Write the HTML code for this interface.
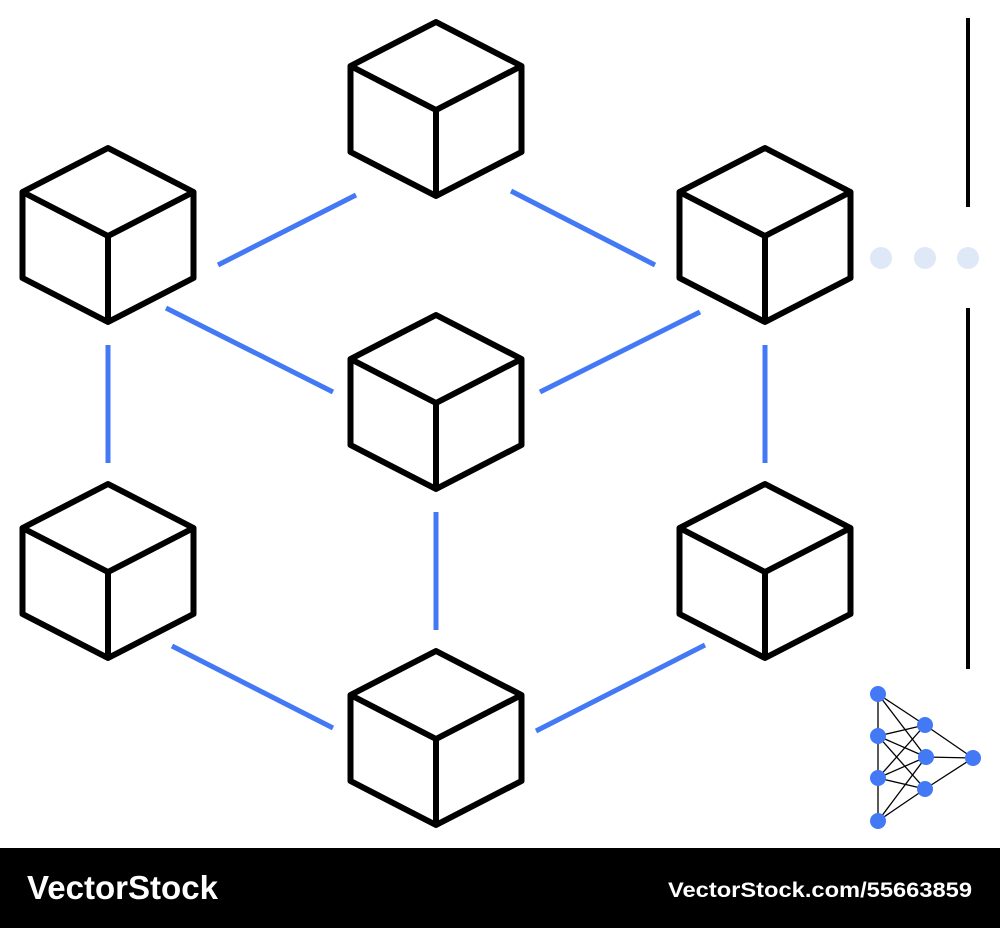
<!DOCTYPE html>
<html><head><style>body{margin:0;background:#fff}svg{display:block}</style></head><body>
<svg width="1000" height="928" viewBox="0 0 1000 928" xmlns="http://www.w3.org/2000/svg">
<defs>
<g id="c" fill="none" stroke="#000" stroke-width="6" stroke-linejoin="round">
<path d="M0 0 L85.5 44 L85.5 130 L0 174 L-85.5 130 L-85.5 44 Z"/>
<path d="M-85.5 44 L0 88 L85.5 44 M0 88 L0 174"/>
</g>
</defs>
<use href="#c" x="436" y="22"/>
<use href="#c" x="108" y="148"/>
<use href="#c" x="765" y="148"/>
<use href="#c" x="436" y="315"/>
<use href="#c" x="108" y="484"/>
<use href="#c" x="765" y="484"/>
<use href="#c" x="436" y="651"/>
<g stroke="#4479f5" stroke-width="5">
<line x1="218" y1="265" x2="356" y2="195"/>
<line x1="511" y1="191" x2="655" y2="265"/>
<line x1="166" y1="308" x2="333" y2="392"/>
<line x1="540" y1="392" x2="700" y2="312"/>
<line x1="108" y1="345" x2="108" y2="463"/>
<line x1="765" y1="345" x2="765" y2="463"/>
<line x1="436" y1="512" x2="436" y2="630"/>
<line x1="172" y1="646" x2="333" y2="728"/>
<line x1="536" y1="731" x2="705" y2="645"/>
</g>
<g stroke="#000" stroke-width="4">
<line x1="968" y1="18" x2="968" y2="207"/>
<line x1="968" y1="308" x2="968" y2="669"/>
</g>
<g fill="#dfe8f7">
<circle cx="881" cy="258" r="11"/><circle cx="925" cy="258" r="11"/><circle cx="968" cy="258" r="11"/>
</g>
<g stroke="#000" stroke-width="1.3">
<line x1="878" y1="694" x2="878" y2="821"/>
<line x1="878" y1="694" x2="925" y2="725"/><line x1="878" y1="694" x2="926" y2="757"/>
<line x1="878" y1="736" x2="925" y2="725"/><line x1="878" y1="736" x2="926" y2="757"/><line x1="878" y1="736" x2="925" y2="789"/>
<line x1="878" y1="778" x2="925" y2="725"/><line x1="878" y1="778" x2="926" y2="757"/><line x1="878" y1="778" x2="925" y2="789"/>
<line x1="878" y1="821" x2="926" y2="757"/><line x1="878" y1="821" x2="925" y2="789"/>
<line x1="925" y1="725" x2="973" y2="758"/><line x1="926" y1="757" x2="973" y2="758"/><line x1="925" y1="789" x2="973" y2="758"/>
</g>
<g fill="#4479f5">
<circle cx="878" cy="694" r="8"/><circle cx="878" cy="736" r="8"/><circle cx="878" cy="778" r="8"/><circle cx="878" cy="821" r="8"/>
<circle cx="925" cy="725" r="8"/><circle cx="926" cy="757" r="8"/><circle cx="925" cy="789" r="8"/><circle cx="973" cy="758" r="8"/>
</g>
<rect x="0" y="848" width="1000" height="80" fill="#000"/>
<text x="27" y="899" fill="#fff" font-family="Liberation Sans, sans-serif" font-size="33" font-weight="bold" textLength="191" lengthAdjust="spacingAndGlyphs">VectorStock</text>
<text x="668" y="897" fill="#fff" font-family="Liberation Sans, sans-serif" font-size="21" font-weight="bold" textLength="304" lengthAdjust="spacingAndGlyphs">VectorStock.com/55663859</text>
</svg>
</body></html>
